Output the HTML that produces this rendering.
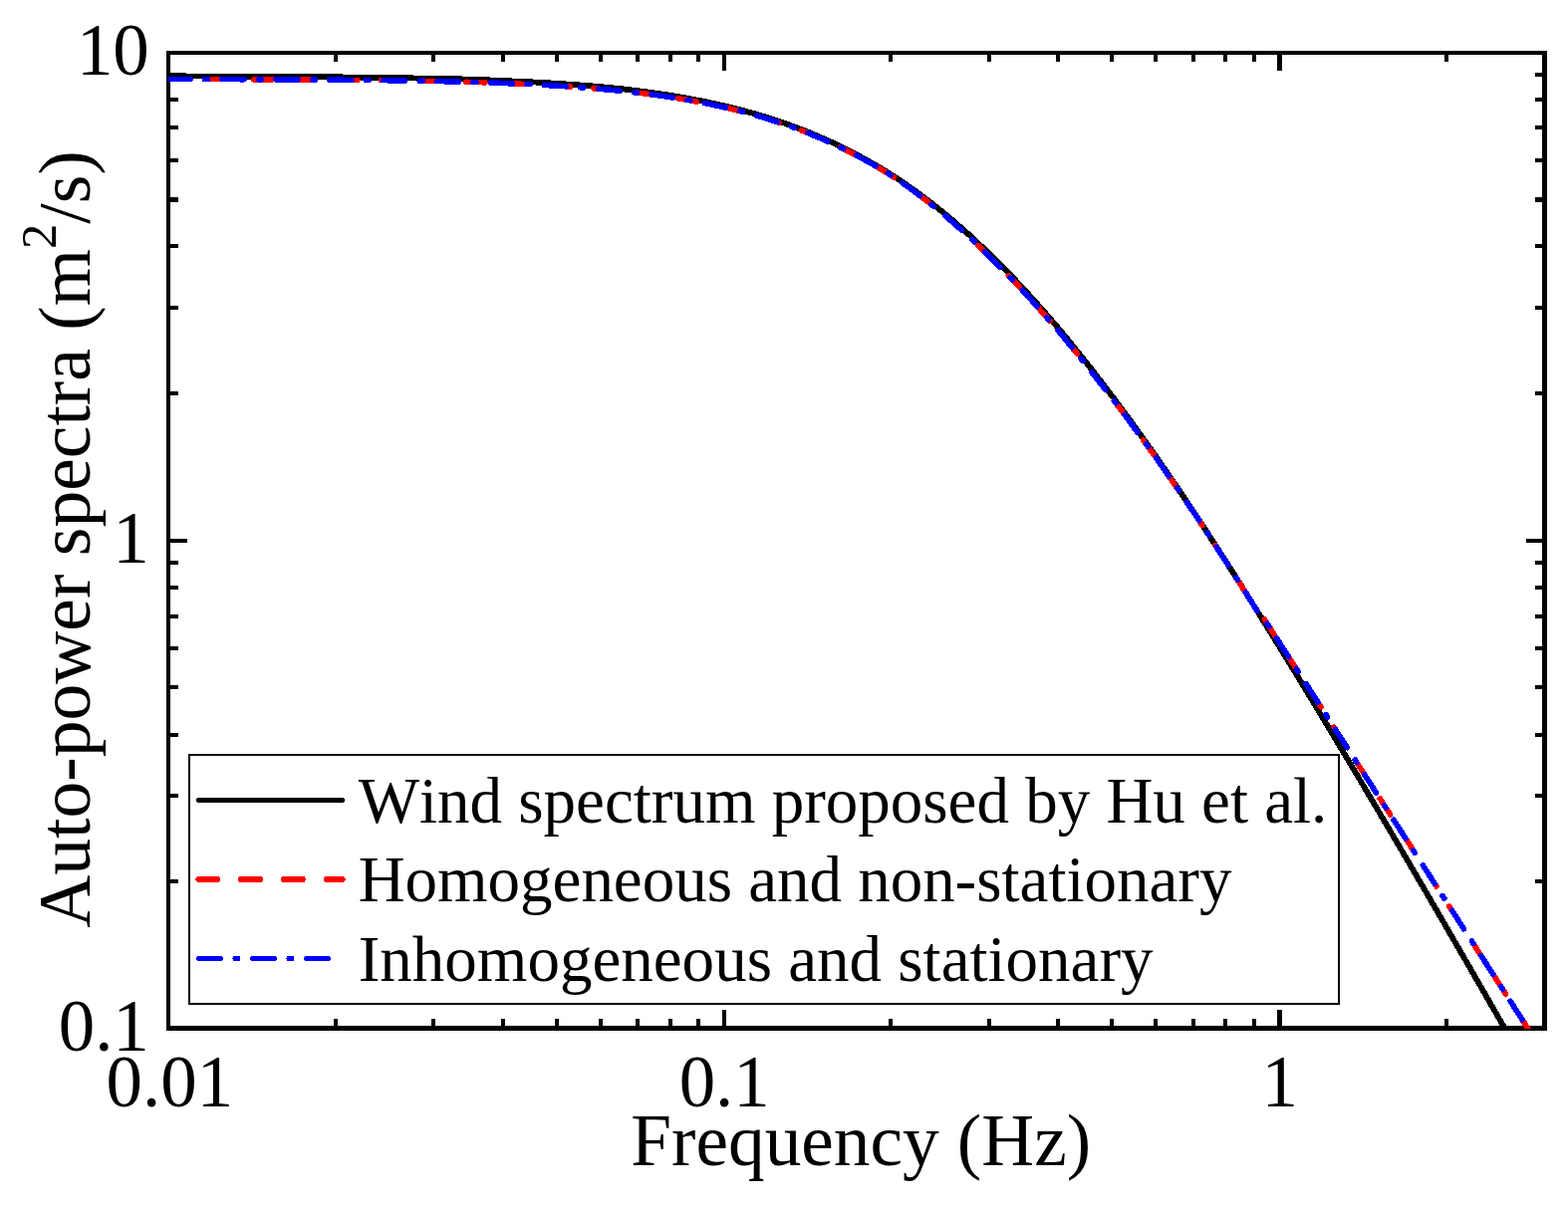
<!DOCTYPE html>
<html lang="en"><head><meta charset="utf-8"><title>Auto-power spectra</title>
<style>html,body{margin:0;padding:0;background:#fff}svg{display:block}text{font-family:"Liberation Serif","Times New Roman",serif;fill:#000;font-kerning:none;font-variant-ligatures:none}</style></head><body>
<svg width="1574" height="1214" viewBox="0 0 1574 1214">
<rect width="1574" height="1214" fill="#fff"/>
<defs><clipPath id="c"><rect x="169" y="53" width="1381.5" height="980"/></clipPath></defs>
<g fill="#000" shape-rendering="crispEdges">
<rect x="167" y="51" width="1386" height="4"/>
<rect x="167" y="1030" width="1386" height="5"/>
<rect x="167" y="51" width="4" height="984"/>
<rect x="1548" y="51" width="5" height="984"/>
<rect x="335" y="51" width="4" height="11"/>
<rect x="335" y="1023" width="4" height="12"/>
<rect x="433" y="51" width="4" height="11"/>
<rect x="433" y="1023" width="4" height="12"/>
<rect x="503" y="51" width="4" height="11"/>
<rect x="503" y="1023" width="4" height="12"/>
<rect x="557" y="51" width="4" height="11"/>
<rect x="557" y="1023" width="4" height="12"/>
<rect x="601" y="51" width="4" height="11"/>
<rect x="601" y="1023" width="4" height="12"/>
<rect x="638" y="51" width="4" height="11"/>
<rect x="638" y="1023" width="4" height="12"/>
<rect x="671" y="51" width="4" height="11"/>
<rect x="671" y="1023" width="4" height="12"/>
<rect x="699" y="51" width="4" height="11"/>
<rect x="699" y="1023" width="4" height="12"/>
<rect x="725" y="51" width="4" height="20"/>
<rect x="725" y="1014" width="4" height="21"/>
<rect x="892" y="51" width="4" height="11"/>
<rect x="892" y="1023" width="4" height="12"/>
<rect x="991" y="51" width="4" height="11"/>
<rect x="991" y="1023" width="4" height="12"/>
<rect x="1060" y="51" width="4" height="11"/>
<rect x="1060" y="1023" width="4" height="12"/>
<rect x="1114" y="51" width="4" height="11"/>
<rect x="1114" y="1023" width="4" height="12"/>
<rect x="1158" y="51" width="4" height="11"/>
<rect x="1158" y="1023" width="4" height="12"/>
<rect x="1196" y="51" width="4" height="11"/>
<rect x="1196" y="1023" width="4" height="12"/>
<rect x="1228" y="51" width="4" height="11"/>
<rect x="1228" y="1023" width="4" height="12"/>
<rect x="1257" y="51" width="4" height="11"/>
<rect x="1257" y="1023" width="4" height="12"/>
<rect x="1282" y="51" width="5" height="20"/>
<rect x="1282" y="1014" width="5" height="21"/>
<rect x="1450" y="51" width="4" height="11"/>
<rect x="1450" y="1023" width="4" height="12"/>
<rect x="167" y="883" width="12" height="4"/>
<rect x="1541" y="883" width="12" height="4"/>
<rect x="167" y="797" width="12" height="4"/>
<rect x="1541" y="797" width="12" height="4"/>
<rect x="167" y="736" width="12" height="4"/>
<rect x="1541" y="736" width="12" height="4"/>
<rect x="167" y="688" width="12" height="4"/>
<rect x="1541" y="688" width="12" height="4"/>
<rect x="167" y="649" width="12" height="4"/>
<rect x="1541" y="649" width="12" height="4"/>
<rect x="167" y="617" width="12" height="4"/>
<rect x="1541" y="617" width="12" height="4"/>
<rect x="167" y="588" width="12" height="4"/>
<rect x="1541" y="588" width="12" height="4"/>
<rect x="167" y="563" width="12" height="4"/>
<rect x="1541" y="563" width="12" height="4"/>
<rect x="167" y="541" width="21" height="4"/>
<rect x="1532" y="541" width="21" height="4"/>
<rect x="167" y="393" width="12" height="4"/>
<rect x="1541" y="393" width="12" height="4"/>
<rect x="167" y="307" width="12" height="4"/>
<rect x="1541" y="307" width="12" height="4"/>
<rect x="167" y="245" width="12" height="4"/>
<rect x="1541" y="245" width="12" height="4"/>
<rect x="167" y="198" width="12" height="5"/>
<rect x="1541" y="198" width="12" height="5"/>
<rect x="167" y="159" width="12" height="4"/>
<rect x="1541" y="159" width="12" height="4"/>
<rect x="167" y="126" width="12" height="4"/>
<rect x="1541" y="126" width="12" height="4"/>
<rect x="167" y="98" width="12" height="4"/>
<rect x="1541" y="98" width="12" height="4"/>
<rect x="167" y="73" width="12" height="4"/>
<rect x="1541" y="73" width="12" height="4"/>
</g>
<g clip-path="url(#c)" fill="none" stroke-width="5.6" stroke-linejoin="round" stroke-linecap="round" shape-rendering="crispEdges">
<path d="M169.00,76.33 L171.00,76.34 L173.00,76.34 L175.00,76.35 L177.00,76.36 L179.00,76.36 L181.00,76.37 L183.00,76.38 L185.00,76.39 L187.00,76.40 L189.00,76.40 L191.00,76.41 L193.00,76.42 L195.00,76.43 L197.00,76.44 L199.00,76.45 L201.00,76.45 L203.00,76.46 L205.00,76.46 L207.00,76.47 L209.00,76.48 L211.00,76.48 L213.00,76.49 L215.00,76.50 L217.00,76.51 L219.00,76.51 L221.00,76.52 L223.00,76.53 L225.00,76.54 L227.00,76.54 L229.00,76.55 L231.00,76.56 L233.00,76.57 L235.00,76.58 L237.00,76.59 L239.00,76.59 L241.00,76.60 L243.00,76.61 L245.00,76.62 L247.00,76.63 L249.00,76.64 L251.00,76.65 L253.00,76.66 L255.00,76.67 L257.00,76.68 L259.00,76.69 L261.00,76.71 L263.00,76.72 L265.00,76.73 L267.00,76.74 L269.00,76.75 L271.00,76.76 L273.00,76.78 L275.00,76.79 L277.00,76.80 L279.00,76.82 L281.00,76.83 L283.00,76.84 L285.00,76.86 L287.00,76.87 L289.00,76.89 L291.00,76.90 L293.00,76.92 L295.00,76.93 L297.00,76.95 L299.00,76.96 L301.00,76.98 L303.00,77.00 L305.00,77.01 L307.00,77.03 L309.00,77.05 L311.00,77.06 L313.00,77.08 L315.00,77.10 L317.00,77.12 L319.00,77.14 L321.00,77.16 L323.00,77.18 L325.00,77.20 L327.00,77.22 L329.00,77.24 L331.00,77.26 L333.00,77.28 L335.00,77.30 L337.00,77.33 L339.00,77.35 L341.00,77.37 L343.00,77.39 L345.00,77.42 L347.00,77.44 L349.00,77.46 L351.00,77.48 L353.00,77.50 L355.00,77.53 L357.00,77.55 L359.00,77.57 L361.00,77.60 L363.00,77.62 L365.00,77.65 L367.00,77.67 L369.00,77.70 L371.00,77.73 L373.00,77.75 L375.00,77.78 L377.00,77.81 L379.00,77.84 L381.00,77.87 L383.00,77.90 L385.00,77.93 L387.00,77.96 L389.00,77.99 L391.00,78.02 L393.00,78.05 L395.00,78.09 L397.00,78.12 L399.00,78.16 L401.00,78.19 L403.00,78.23 L405.00,78.26 L407.00,78.30 L409.00,78.33 L411.00,78.36 L413.00,78.38 L415.00,78.41 L417.00,78.44 L419.00,78.47 L421.00,78.50 L423.00,78.53 L425.00,78.56 L427.00,78.59 L429.00,78.62 L431.00,78.65 L433.00,78.69 L435.00,78.72 L437.00,78.76 L439.00,78.79 L441.00,78.83 L443.00,78.87 L445.00,78.91 L447.00,78.95 L449.00,78.99 L451.00,79.03 L453.00,79.09 L455.00,79.14 L457.00,79.20 L459.00,79.26 L461.00,79.32 L463.00,79.38 L465.00,79.44 L467.00,79.50 L469.00,79.56 L471.00,79.63 L473.00,79.69 L475.00,79.76 L477.00,79.82 L479.00,79.89 L481.00,79.97 L483.00,80.04 L485.00,80.12 L487.00,80.20 L489.00,80.28 L491.00,80.36 L493.00,80.45 L495.00,80.53 L497.00,80.62 L499.00,80.71 L501.00,80.79 L503.00,80.88 L505.00,80.98 L507.00,81.07 L509.00,81.16 L511.00,81.26 L513.00,81.36 L515.00,81.45 L517.00,81.55 L519.00,81.66 L521.00,81.75 L523.00,81.85 L525.00,81.94 L527.00,82.04 L529.00,82.13 L531.00,82.23 L533.00,82.33 L535.00,82.44 L537.00,82.54 L539.00,82.65 L541.00,82.76 L543.00,82.87 L545.00,82.98 L547.00,83.09 L549.00,83.21 L551.00,83.32 L553.00,83.44 L555.00,83.56 L557.00,83.69 L559.00,83.81 L561.00,83.94 L563.00,84.07 L565.00,84.20 L567.00,84.34 L569.00,84.47 L571.00,84.61 L573.00,84.75 L575.00,84.89 L577.00,85.04 L579.00,85.19 L581.00,85.34 L583.00,85.49 L585.00,85.64 L587.00,85.80 L589.00,85.96 L591.00,86.12 L593.00,86.29 L595.00,86.46 L597.00,86.63 L599.00,86.80 L601.00,86.97 L603.00,87.15 L605.00,87.33 L607.00,87.52 L609.00,87.71 L611.00,87.90 L613.00,88.09 L615.00,88.28 L617.00,88.48 L619.00,88.69 L621.00,88.90 L623.00,89.12 L625.00,89.34 L627.00,89.57 L629.00,89.80 L631.00,90.03 L633.00,90.27 L635.00,90.51 L637.00,90.76 L639.00,91.00 L641.00,91.26 L643.00,91.51 L645.00,91.77 L647.00,92.03 L649.00,92.30 L651.00,92.57 L653.00,92.84 L655.00,93.12 L657.00,93.40 L659.00,93.69 L661.00,93.98 L663.00,94.28 L665.00,94.57 L667.00,94.88 L669.00,95.18 L671.00,95.50 L673.00,95.81 L675.00,96.13 L677.00,96.46 L679.00,96.79 L681.00,97.12 L683.00,97.47 L685.00,97.81 L687.00,98.17 L689.00,98.52 L691.00,98.88 L693.00,99.25 L695.00,99.62 L697.00,100.00 L699.00,100.38 L701.00,100.77 L703.00,101.16 L705.00,101.56 L707.00,101.96 L709.00,102.37 L711.00,102.79 L713.00,103.21 L715.00,103.64 L717.00,104.07 L719.00,104.51 L721.00,104.95 L723.00,105.40 L725.00,105.86 L727.00,106.32 L729.00,106.79 L731.00,107.27 L733.00,107.75 L735.00,108.24 L737.00,108.73 L739.00,109.23 L741.00,109.74 L743.00,110.25 L745.00,110.78 L747.00,111.31 L749.00,111.84 L751.00,112.38 L753.00,112.93 L755.00,113.49 L757.00,114.06 L759.00,114.63 L761.00,115.21 L763.00,115.81 L765.00,116.41 L767.00,117.02 L769.00,117.64 L771.00,118.27 L773.00,118.90 L775.00,119.54 L777.00,120.20 L779.00,120.85 L781.00,121.52 L783.00,122.20 L785.00,122.88 L787.00,123.57 L789.00,124.28 L791.00,124.99 L793.00,125.70 L795.00,126.43 L797.00,127.17 L799.00,127.91 L801.00,128.67 L803.00,129.43 L805.00,130.21 L807.00,130.99 L809.00,131.78 L811.00,132.58 L813.00,133.39 L815.00,134.21 L817.00,135.04 L819.00,135.88 L821.00,136.73 L823.00,137.60 L825.00,138.47 L827.00,139.35 L829.00,140.24 L831.00,141.14 L833.00,142.05 L835.00,142.97 L837.00,143.90 L839.00,144.85 L841.00,145.80 L843.00,146.77 L845.00,147.74 L847.00,148.73 L849.00,149.73 L851.00,150.73 L853.00,151.74 L855.00,152.76 L857.00,153.79 L859.00,154.83 L861.00,155.89 L863.00,156.95 L865.00,158.03 L867.00,159.12 L869.00,160.22 L871.00,161.33 L873.00,162.46 L875.00,163.60 L877.00,164.75 L879.00,165.91 L881.00,167.08 L883.00,168.26 L885.00,169.46 L887.00,170.67 L889.00,171.90 L891.00,173.13 L893.00,174.38 L895.00,175.64 L897.00,176.91 L899.00,178.20 L901.00,179.51 L903.00,180.84 L905.00,182.19 L907.00,183.55 L909.00,184.92 L911.00,186.31 L913.00,187.71 L915.00,189.12 L917.00,190.54 L919.00,191.98 L921.00,193.43 L923.00,194.90 L925.00,196.38 L927.00,197.87 L929.00,199.38 L931.00,200.89 L933.00,202.43 L935.00,203.97 L937.00,205.53 L939.00,207.10 L941.00,208.69 L943.00,210.29 L945.00,211.90 L947.00,213.53 L949.00,215.17 L951.00,216.83 L953.00,218.49 L955.00,220.18 L957.00,221.87 L959.00,223.58 L961.00,225.30 L963.00,227.04 L965.00,228.79 L967.00,230.56 L969.00,232.34 L971.00,234.13 L973.00,235.94 L975.00,237.76 L977.00,239.60 L979.00,241.44 L981.00,243.31 L983.00,245.18 L985.00,247.07 L987.00,248.98 L989.00,250.89 L991.00,252.82 L993.00,254.77 L995.00,256.73 L997.00,258.70 L999.00,260.68 L1001.00,262.67 L1003.00,264.66 L1005.00,266.66 L1007.00,268.67 L1009.00,270.70 L1011.00,272.74 L1013.00,274.79 L1015.00,276.86 L1017.00,278.94 L1019.00,281.04 L1021.00,283.15 L1023.00,285.27 L1025.00,287.40 L1027.00,289.55 L1029.00,291.71 L1031.00,293.88 L1033.00,296.07 L1035.00,298.27 L1037.00,300.48 L1039.00,302.71 L1041.00,304.95 L1043.00,307.20 L1045.00,309.46 L1047.00,311.74 L1049.00,314.02 L1051.00,316.33 L1053.00,318.64 L1055.00,320.97 L1057.00,323.30 L1059.00,325.66 L1061.00,328.02 L1063.00,330.39 L1065.00,332.78 L1067.00,335.18 L1069.00,337.59 L1071.00,340.01 L1073.00,342.45 L1075.00,344.90 L1077.00,347.35 L1079.00,349.82 L1081.00,352.31 L1083.00,354.80 L1085.00,357.30 L1087.00,359.82 L1089.00,362.35 L1091.00,364.88 L1093.00,367.43 L1095.00,369.99 L1097.00,372.56 L1099.00,375.15 L1101.00,377.73 L1103.00,380.31 L1105.00,382.90 L1107.00,385.50 L1109.00,388.11 L1111.00,390.73 L1113.00,393.36 L1115.00,396.00 L1117.00,398.65 L1119.00,401.32 L1121.00,403.99 L1123.00,406.67 L1125.00,409.36 L1127.00,412.06 L1129.00,414.78 L1131.00,417.50 L1133.00,420.23 L1135.00,422.97 L1137.00,425.72 L1139.00,428.47 L1141.00,431.24 L1143.00,434.02 L1145.00,436.80 L1147.00,439.60 L1149.00,442.40 L1151.00,445.21 L1153.00,448.03 L1155.00,450.86 L1157.00,453.70 L1159.00,456.55 L1161.00,459.40 L1163.00,462.26 L1165.00,465.13 L1167.00,468.01 L1169.00,470.90 L1171.00,473.80 L1173.00,476.70 L1175.00,479.61 L1177.00,482.53 L1179.00,485.45 L1181.00,488.39 L1183.00,491.33 L1185.00,494.28 L1187.00,497.23 L1189.00,500.19 L1191.00,503.16 L1193.00,506.14 L1195.00,509.12 L1197.00,512.12 L1199.00,515.11 L1201.00,518.13 L1203.00,521.16 L1205.00,524.21 L1207.00,527.25 L1209.00,530.31 L1211.00,533.37 L1213.00,536.44 L1215.00,539.51 L1217.00,542.59 L1219.00,545.68 L1221.00,548.77 L1223.00,551.87 L1225.00,554.97 L1227.00,558.08 L1229.00,561.20 L1231.00,564.32 L1233.00,567.44 L1235.00,570.58 L1237.00,573.71 L1239.00,576.86 L1241.00,580.01 L1243.00,583.16 L1245.00,586.32 L1247.00,589.48 L1249.00,592.65 L1251.00,595.83 L1253.00,599.01 L1255.00,602.19 L1257.00,605.38 L1259.00,608.57 L1261.00,611.77 L1263.00,614.98 L1265.00,618.18 L1267.00,621.40 L1269.00,624.61 L1271.00,627.83 L1273.00,631.06 L1275.00,634.29 L1277.00,637.52 L1279.00,640.76 L1281.00,644.01 L1283.00,647.25 L1285.00,650.50 L1287.00,653.76 L1289.00,657.02 L1291.00,660.28 L1293.00,663.55 L1295.00,666.82 L1297.00,670.09 L1299.00,673.37 L1301.00,676.65 L1303.00,679.93 L1305.00,683.22 L1307.00,686.51 L1309.00,689.80 L1311.00,693.10 L1313.00,696.39 L1315.00,699.69 L1317.00,703.00 L1319.00,706.30 L1321.00,709.61 L1323.00,712.92 L1325.00,716.23 L1327.00,719.55 L1329.00,722.86 L1331.00,726.18 L1333.00,729.51 L1335.00,732.83 L1337.00,736.16 L1339.00,739.49 L1341.00,742.82 L1343.00,746.15 L1345.00,749.49 L1347.00,752.83 L1349.00,756.17 L1351.00,759.51 L1353.00,762.86 L1355.00,766.20 L1357.00,769.55 L1359.00,772.91 L1361.00,776.26 L1363.00,779.62 L1365.00,782.98 L1367.00,786.34 L1369.00,789.70 L1371.00,793.06 L1373.00,796.43 L1375.00,799.80 L1377.00,803.17 L1379.00,806.55 L1381.00,809.92 L1383.00,813.30 L1385.00,816.68 L1387.00,820.06 L1389.00,823.45 L1391.00,826.84 L1393.00,830.22 L1395.00,833.61 L1397.00,837.01 L1399.00,840.40 L1401.00,843.80 L1403.00,847.20 L1405.00,850.60 L1407.00,854.00 L1409.00,857.41 L1411.00,860.82 L1413.00,864.23 L1415.00,867.64 L1417.00,871.05 L1419.00,874.47 L1421.00,877.89 L1423.00,881.31 L1425.00,884.73 L1427.00,888.15 L1429.00,891.58 L1431.00,895.01 L1433.00,898.44 L1435.00,901.87 L1437.00,905.31 L1439.00,908.74 L1441.00,912.18 L1443.00,915.63 L1445.00,919.07 L1447.00,922.51 L1449.00,925.96 L1451.00,929.41 L1453.00,932.86 L1455.00,936.31 L1457.00,939.77 L1459.00,943.22 L1461.00,946.68 L1463.00,950.14 L1465.00,953.59 L1467.00,957.05 L1469.00,960.51 L1471.00,963.98 L1473.00,967.44 L1475.00,970.90 L1477.00,974.37 L1479.00,977.83 L1481.00,981.30 L1483.00,984.77 L1485.00,988.23 L1487.00,991.70 L1489.00,995.17 L1491.00,998.65 L1493.00,1002.12 L1495.00,1005.59 L1497.00,1009.07 L1499.00,1012.54 L1501.00,1016.02 L1503.00,1019.49 L1505.00,1022.97 L1507.00,1026.45 L1509.00,1029.93 L1511.00,1033.41 L1513.00,1036.89 L1515.00,1040.37 L1517.00,1043.85 L1519.00,1047.34 L1521.00,1050.82 L1523.00,1054.30 L1525.00,1057.79 L1527.00,1061.27 L1529.00,1064.76 L1531.00,1068.25 L1533.00,1071.74 L1535.00,1075.23 L1537.00,1078.71 L1539.00,1082.20 L1541.00,1085.70 L1543.00,1089.19 L1545.00,1092.68 L1547.00,1096.17 L1549.00,1099.66 L1551.00,1103.16 L1553.00,1106.65" stroke="#000" stroke-width="5.8" stroke-linecap="butt"/>
<path d="M169.00,79.48 L171.00,79.48 L173.00,79.49 L175.00,79.50 L177.00,79.50 L179.00,79.51 L181.00,79.51 L183.00,79.52 L185.00,79.53 L187.00,79.53 L189.00,79.54 L191.00,79.55 L193.00,79.55 L195.00,79.56 L197.00,79.57 L199.00,79.58 L201.00,79.58 L203.00,79.59 L205.00,79.59 L207.00,79.60 L209.00,79.60 L211.00,79.61 L213.00,79.61 L215.00,79.62 L217.00,79.63 L219.00,79.63 L221.00,79.64 L223.00,79.64 L225.00,79.65 L227.00,79.66 L229.00,79.66 L231.00,79.67 L233.00,79.68 L235.00,79.69 L237.00,79.69 L239.00,79.70 L241.00,79.71 L243.00,79.72 L245.00,79.73 L247.00,79.73 L249.00,79.74 L251.00,79.75 L253.00,79.75 L255.00,79.75 L257.00,79.76 L259.00,79.76 L261.00,79.76 L263.00,79.76 L265.00,79.77 L267.00,79.77 L269.00,79.78 L271.00,79.78 L273.00,79.79 L275.00,79.79 L277.00,79.79 L279.00,79.80 L281.00,79.81 L283.00,79.81 L285.00,79.82 L287.00,79.82 L289.00,79.83 L291.00,79.84 L293.00,79.84 L295.00,79.85 L297.00,79.86 L299.00,79.87 L301.00,79.88 L303.00,79.90 L305.00,79.91 L307.00,79.93 L309.00,79.95 L311.00,79.96 L313.00,79.98 L315.00,80.00 L317.00,80.02 L319.00,80.04 L321.00,80.06 L323.00,80.08 L325.00,80.10 L327.00,80.12 L329.00,80.14 L331.00,80.16 L333.00,80.18 L335.00,80.20 L337.00,80.23 L339.00,80.25 L341.00,80.27 L343.00,80.29 L345.00,80.30 L347.00,80.32 L349.00,80.33 L351.00,80.35 L353.00,80.36 L355.00,80.38 L357.00,80.39 L359.00,80.41 L361.00,80.42 L363.00,80.44 L365.00,80.46 L367.00,80.48 L369.00,80.50 L371.00,80.52 L373.00,80.54 L375.00,80.56 L377.00,80.58 L379.00,80.60 L381.00,80.62 L383.00,80.64 L385.00,80.66 L387.00,80.69 L389.00,80.71 L391.00,80.74 L393.00,80.76 L395.00,80.79 L397.00,80.81 L399.00,80.84 L401.00,80.87 L403.00,80.90 L405.00,80.92 L407.00,80.95 L409.00,80.99 L411.00,81.02 L413.00,81.06 L415.00,81.09 L417.00,81.13 L419.00,81.17 L421.00,81.21 L423.00,81.25 L425.00,81.29 L427.00,81.33 L429.00,81.37 L431.00,81.41 L433.00,81.45 L435.00,81.50 L437.00,81.54 L439.00,81.59 L441.00,81.63 L443.00,81.66 L445.00,81.70 L447.00,81.73 L449.00,81.77 L451.00,81.82 L453.00,81.87 L455.00,81.92 L457.00,81.97 L459.00,82.03 L461.00,82.08 L463.00,82.14 L465.00,82.20 L467.00,82.25 L469.00,82.31 L471.00,82.37 L473.00,82.42 L475.00,82.47 L477.00,82.52 L479.00,82.57 L481.00,82.62 L483.00,82.68 L485.00,82.75 L487.00,82.81 L489.00,82.87 L491.00,82.94 L493.00,83.01 L495.00,83.07 L497.00,83.14 L499.00,83.21 L501.00,83.29 L503.00,83.38 L505.00,83.47 L507.00,83.56 L509.00,83.65 L511.00,83.74 L513.00,83.83 L515.00,83.92 L517.00,84.02 L519.00,84.12 L521.00,84.21 L523.00,84.30 L525.00,84.39 L527.00,84.48 L529.00,84.58 L531.00,84.67 L533.00,84.77 L535.00,84.87 L537.00,84.97 L539.00,85.07 L541.00,85.17 L543.00,85.28 L545.00,85.39 L547.00,85.50 L549.00,85.61 L551.00,85.72 L553.00,85.84 L555.00,85.95 L557.00,86.07 L559.00,86.20 L561.00,86.32 L563.00,86.44 L565.00,86.57 L567.00,86.70 L569.00,86.83 L571.00,86.97 L573.00,87.10 L575.00,87.24 L577.00,87.38 L579.00,87.53 L581.00,87.67 L583.00,87.82 L585.00,87.97 L587.00,88.13 L589.00,88.28 L591.00,88.44 L593.00,88.60 L595.00,88.77 L597.00,88.93 L599.00,89.10 L601.00,89.27 L603.00,89.43 L605.00,89.60 L607.00,89.77 L609.00,89.94 L611.00,90.12 L613.00,90.30 L615.00,90.48 L617.00,90.66 L619.00,90.85 L621.00,91.05 L623.00,91.26 L625.00,91.47 L627.00,91.68 L629.00,91.90 L631.00,92.12 L633.00,92.34 L635.00,92.57 L637.00,92.80 L639.00,93.03 L641.00,93.27 L643.00,93.51 L645.00,93.75 L647.00,94.00 L649.00,94.26 L651.00,94.51 L653.00,94.77 L655.00,95.04 L657.00,95.30 L659.00,95.58 L661.00,95.85 L663.00,96.13 L665.00,96.42 L667.00,96.71 L669.00,97.00 L671.00,97.30 L673.00,97.60 L675.00,97.91 L677.00,98.22 L679.00,98.54 L681.00,98.86 L683.00,99.19 L685.00,99.52 L687.00,99.86 L689.00,100.20 L691.00,100.55 L693.00,100.90 L695.00,101.26 L697.00,101.62 L699.00,101.99 L701.00,102.36 L703.00,102.75 L705.00,103.14 L707.00,103.53 L709.00,103.93 L711.00,104.33 L713.00,104.74 L715.00,105.16 L717.00,105.58 L719.00,106.01 L721.00,106.45 L723.00,106.89 L725.00,107.33 L727.00,107.79 L729.00,108.24 L731.00,108.71 L733.00,109.18 L735.00,109.66 L737.00,110.14 L739.00,110.64 L741.00,111.13 L743.00,111.64 L745.00,112.15 L747.00,112.67 L749.00,113.20 L751.00,113.73 L753.00,114.27 L755.00,114.82 L757.00,115.37 L759.00,115.93 L761.00,116.51 L763.00,117.09 L765.00,117.69 L767.00,118.29 L769.00,118.90 L771.00,119.51 L773.00,120.14 L775.00,120.77 L777.00,121.41 L779.00,122.06 L781.00,122.72 L783.00,123.38 L785.00,124.06 L787.00,124.74 L789.00,125.43 L791.00,126.13 L793.00,126.84 L795.00,127.56 L797.00,128.28 L799.00,129.02 L801.00,129.77 L803.00,130.53 L805.00,131.30 L807.00,132.07 L809.00,132.86 L811.00,133.66 L813.00,134.47 L815.00,135.28 L817.00,136.11 L819.00,136.95 L821.00,137.79 L823.00,138.65 L825.00,139.52 L827.00,140.39 L829.00,141.28 L831.00,142.18 L833.00,143.08 L835.00,144.00 L837.00,144.93 L839.00,145.87 L841.00,146.82 L843.00,147.78 L845.00,148.75 L847.00,149.73 L849.00,150.73 L851.00,151.73 L853.00,152.73 L855.00,153.75 L857.00,154.78 L859.00,155.82 L861.00,156.87 L863.00,157.93 L865.00,159.00 L867.00,160.09 L869.00,161.18 L871.00,162.29 L873.00,163.41 L875.00,164.55 L877.00,165.69 L879.00,166.85 L881.00,168.02 L883.00,169.20 L885.00,170.39 L887.00,171.60 L889.00,172.82 L891.00,174.05 L893.00,175.29 L895.00,176.55 L897.00,177.82 L899.00,179.10 L901.00,180.42 L903.00,181.79 L905.00,183.17 L907.00,184.56 L909.00,185.96 L911.00,187.38 L913.00,188.81 L915.00,190.26 L917.00,191.72 L919.00,193.19 L921.00,194.67 L923.00,196.17 L925.00,197.68 L927.00,199.20 L929.00,200.74 L931.00,202.29 L933.00,203.85 L935.00,205.43 L937.00,207.02 L939.00,208.63 L941.00,210.25 L943.00,211.88 L945.00,213.52 L947.00,215.18 L949.00,216.86 L951.00,218.54 L953.00,220.25 L955.00,221.97 L957.00,223.70 L959.00,225.44 L961.00,227.20 L963.00,228.98 L965.00,230.76 L967.00,232.57 L969.00,234.38 L971.00,236.21 L973.00,238.05 L975.00,239.91 L977.00,241.78 L979.00,243.67 L981.00,245.56 L983.00,247.48 L985.00,249.40 L987.00,251.34 L989.00,253.29 L991.00,255.26 L993.00,257.24 L995.00,259.24 L997.00,261.24 L999.00,263.26 L1001.00,265.27 L1003.00,267.26 L1005.00,269.26 L1007.00,271.28 L1009.00,273.31 L1011.00,275.35 L1013.00,277.41 L1015.00,279.48 L1017.00,281.56 L1019.00,283.66 L1021.00,285.77 L1023.00,287.89 L1025.00,290.03 L1027.00,292.18 L1029.00,294.34 L1031.00,296.51 L1033.00,298.70 L1035.00,300.90 L1037.00,303.12 L1039.00,305.35 L1041.00,307.59 L1043.00,309.84 L1045.00,312.10 L1047.00,314.38 L1049.00,316.67 L1051.00,318.98 L1053.00,321.29 L1055.00,323.62 L1057.00,325.96 L1059.00,328.31 L1061.00,330.68 L1063.00,333.06 L1065.00,335.45 L1067.00,337.85 L1069.00,340.26 L1071.00,342.69 L1073.00,345.12 L1075.00,347.57 L1077.00,350.03 L1079.00,352.50 L1081.00,354.99 L1083.00,357.48 L1085.00,359.99 L1087.00,362.51 L1089.00,365.03 L1091.00,367.57 L1093.00,370.13 L1095.00,372.69 L1097.00,375.26 L1099.00,377.84 L1101.00,380.40 L1103.00,382.93 L1105.00,385.48 L1107.00,388.03 L1109.00,390.59 L1111.00,393.16 L1113.00,395.75 L1115.00,398.34 L1117.00,400.95 L1119.00,403.56 L1121.00,406.18 L1123.00,408.82 L1125.00,411.46 L1127.00,414.12 L1129.00,416.78 L1131.00,419.45 L1133.00,422.13 L1135.00,424.83 L1137.00,427.53 L1139.00,430.24 L1141.00,432.96 L1143.00,435.69 L1145.00,438.42 L1147.00,441.17 L1149.00,443.92 L1151.00,446.69 L1153.00,449.47 L1155.00,452.26 L1157.00,455.06 L1159.00,457.87 L1161.00,460.68 L1163.00,463.50 L1165.00,466.33 L1167.00,469.17 L1169.00,472.02 L1171.00,474.88 L1173.00,477.74 L1175.00,480.61 L1177.00,483.49 L1179.00,486.37 L1181.00,489.27 L1183.00,492.17 L1185.00,495.08 L1187.00,497.99 L1189.00,500.91 L1191.00,503.84 L1193.00,506.78 L1195.00,509.72 L1197.00,512.68 L1199.00,515.63 L1201.00,518.62 L1203.00,521.64 L1205.00,524.67 L1207.00,527.70 L1209.00,530.74 L1211.00,533.79 L1213.00,536.84 L1215.00,539.90 L1217.00,542.96 L1219.00,546.03 L1221.00,549.11 L1223.00,552.19 L1225.00,555.28 L1227.00,558.38 L1229.00,561.48 L1231.00,564.58 L1233.00,567.69 L1235.00,570.81 L1237.00,573.93 L1239.00,577.06 L1241.00,580.20 L1243.00,583.33 L1245.00,586.48 L1247.00,589.63 L1249.00,592.78 L1251.00,595.94 L1253.00,599.10 L1255.00,602.27 L1257.00,605.45 L1259.00,608.63 L1261.00,611.81 L1263.00,615.00 L1265.00,618.19" stroke="#f00" stroke-dasharray="19 23.7"/>
<path d="M1267.13,618.50 L1541.73,1045.00" stroke="#f00" stroke-dasharray="19 23.82" stroke-dashoffset="38.7"/>
<path d="M169.00,79.48 L171.00,79.48 L173.00,79.49 L175.00,79.50 L177.00,79.50 L179.00,79.51 L181.00,79.51 L183.00,79.52 L185.00,79.53 L187.00,79.53 L189.00,79.54 L191.00,79.55 L193.00,79.55 L195.00,79.56 L197.00,79.57 L199.00,79.58 L201.00,79.58 L203.00,79.59 L205.00,79.59 L207.00,79.60 L209.00,79.60 L211.00,79.61 L213.00,79.61 L215.00,79.62 L217.00,79.63 L219.00,79.63 L221.00,79.64 L223.00,79.64 L225.00,79.65 L227.00,79.66 L229.00,79.66 L231.00,79.67 L233.00,79.68 L235.00,79.69 L237.00,79.69 L239.00,79.70 L241.00,79.71 L243.00,79.72 L245.00,79.73 L247.00,79.73 L249.00,79.74 L251.00,79.75 L253.00,79.75 L255.00,79.75 L257.00,79.76 L259.00,79.76 L261.00,79.76 L263.00,79.76 L265.00,79.77 L267.00,79.77 L269.00,79.78 L271.00,79.78 L273.00,79.79 L275.00,79.79 L277.00,79.79 L279.00,79.80 L281.00,79.81 L283.00,79.81 L285.00,79.82 L287.00,79.82 L289.00,79.83 L291.00,79.84 L293.00,79.84 L295.00,79.85 L297.00,79.86 L299.00,79.87 L301.00,79.88 L303.00,79.90 L305.00,79.91 L307.00,79.93 L309.00,79.95 L311.00,79.96 L313.00,79.98 L315.00,80.00 L317.00,80.02 L319.00,80.04 L321.00,80.06 L323.00,80.08 L325.00,80.10 L327.00,80.12 L329.00,80.14 L331.00,80.16 L333.00,80.18 L335.00,80.20 L337.00,80.23 L339.00,80.25 L341.00,80.27 L343.00,80.29 L345.00,80.30 L347.00,80.32 L349.00,80.33 L351.00,80.35 L353.00,80.36 L355.00,80.38 L357.00,80.39 L359.00,80.41 L361.00,80.42 L363.00,80.44 L365.00,80.46 L367.00,80.48 L369.00,80.50 L371.00,80.52 L373.00,80.54 L375.00,80.56 L377.00,80.58 L379.00,80.60 L381.00,80.62 L383.00,80.64 L385.00,80.66 L387.00,80.69 L389.00,80.71 L391.00,80.74 L393.00,80.76 L395.00,80.79 L397.00,80.81 L399.00,80.84 L401.00,80.87 L403.00,80.90 L405.00,80.92 L407.00,80.95 L409.00,80.99 L411.00,81.02 L413.00,81.06 L415.00,81.09 L417.00,81.13 L419.00,81.17 L421.00,81.21 L423.00,81.25 L425.00,81.29 L427.00,81.33 L429.00,81.37 L431.00,81.41 L433.00,81.45 L435.00,81.50 L437.00,81.54 L439.00,81.59 L441.00,81.63 L443.00,81.66 L445.00,81.70 L447.00,81.73 L449.00,81.77 L451.00,81.82 L453.00,81.87 L455.00,81.92 L457.00,81.97 L459.00,82.03 L461.00,82.08 L463.00,82.14 L465.00,82.20 L467.00,82.25 L469.00,82.31 L471.00,82.37 L473.00,82.42 L475.00,82.47 L477.00,82.52 L479.00,82.57 L481.00,82.62 L483.00,82.68 L485.00,82.75 L487.00,82.81 L489.00,82.87 L491.00,82.94 L493.00,83.01 L495.00,83.07 L497.00,83.14 L499.00,83.21 L501.00,83.29 L503.00,83.38 L505.00,83.47 L507.00,83.56 L509.00,83.65 L511.00,83.74 L513.00,83.83 L515.00,83.92 L517.00,84.02 L519.00,84.12 L521.00,84.21 L523.00,84.30 L525.00,84.39 L527.00,84.48 L529.00,84.58 L531.00,84.67 L533.00,84.77 L535.00,84.87 L537.00,84.97 L539.00,85.07 L541.00,85.17 L543.00,85.28 L545.00,85.39 L547.00,85.50 L549.00,85.61 L551.00,85.72 L553.00,85.84 L555.00,85.95 L557.00,86.07 L559.00,86.20 L561.00,86.32 L563.00,86.44 L565.00,86.57 L567.00,86.70 L569.00,86.83 L571.00,86.97 L573.00,87.10 L575.00,87.24 L577.00,87.38 L579.00,87.53 L581.00,87.67 L583.00,87.82 L585.00,87.97 L587.00,88.13 L589.00,88.28 L591.00,88.44 L593.00,88.60 L595.00,88.77 L597.00,88.93 L599.00,89.10 L601.00,89.27 L603.00,89.43 L605.00,89.60 L607.00,89.77 L609.00,89.94 L611.00,90.12 L613.00,90.30 L615.00,90.48 L617.00,90.66 L619.00,90.85 L621.00,91.05 L623.00,91.26 L625.00,91.47 L627.00,91.68 L629.00,91.90 L631.00,92.12 L633.00,92.34 L635.00,92.57 L637.00,92.80 L639.00,93.03 L641.00,93.27 L643.00,93.51 L645.00,93.75 L647.00,94.00 L649.00,94.26 L651.00,94.51 L653.00,94.77 L655.00,95.04 L657.00,95.30 L659.00,95.58 L661.00,95.85 L663.00,96.13 L665.00,96.42 L667.00,96.71 L669.00,97.00 L671.00,97.30 L673.00,97.60 L675.00,97.91 L677.00,98.22 L679.00,98.54 L681.00,98.86 L683.00,99.19 L685.00,99.52 L687.00,99.86 L689.00,100.20 L691.00,100.55 L693.00,100.90 L695.00,101.26 L697.00,101.62 L699.00,101.99 L701.00,102.36 L703.00,102.75 L705.00,103.14 L707.00,103.53 L709.00,103.93 L711.00,104.33 L713.00,104.74 L715.00,105.16 L717.00,105.58 L719.00,106.01 L721.00,106.45 L723.00,106.89 L725.00,107.33 L727.00,107.79 L729.00,108.24 L731.00,108.71 L733.00,109.18 L735.00,109.66 L737.00,110.14 L739.00,110.64 L741.00,111.13 L743.00,111.64 L745.00,112.15 L747.00,112.67 L749.00,113.20 L751.00,113.73 L753.00,114.27 L755.00,114.82 L757.00,115.37 L759.00,115.93 L761.00,116.51 L763.00,117.09 L765.00,117.69 L767.00,118.29 L769.00,118.90 L771.00,119.51 L773.00,120.14 L775.00,120.77 L777.00,121.41 L779.00,122.06 L781.00,122.72 L783.00,123.38 L785.00,124.06 L787.00,124.74 L789.00,125.43 L791.00,126.13 L793.00,126.84 L795.00,127.56 L797.00,128.28 L799.00,129.02 L801.00,129.77 L803.00,130.53 L805.00,131.30 L807.00,132.07 L809.00,132.86 L811.00,133.66 L813.00,134.47 L815.00,135.28 L817.00,136.11 L819.00,136.95 L821.00,137.79 L823.00,138.65 L825.00,139.52 L827.00,140.39 L829.00,141.28 L831.00,142.18 L833.00,143.08 L835.00,144.00 L837.00,144.93 L839.00,145.87 L841.00,146.82 L843.00,147.78 L845.00,148.75 L847.00,149.73 L849.00,150.73 L851.00,151.73 L853.00,152.73 L855.00,153.75 L857.00,154.78 L859.00,155.82 L861.00,156.87 L863.00,157.93 L865.00,159.00 L867.00,160.09 L869.00,161.18 L871.00,162.29 L873.00,163.41 L875.00,164.55 L877.00,165.69 L879.00,166.85 L881.00,168.02 L883.00,169.20 L885.00,170.39 L887.00,171.60 L889.00,172.82 L891.00,174.05 L893.00,175.29 L895.00,176.55 L897.00,177.82 L899.00,179.10 L901.00,180.42 L903.00,181.79 L905.00,183.17 L907.00,184.56 L909.00,185.96 L911.00,187.38 L913.00,188.81 L915.00,190.26 L917.00,191.72 L919.00,193.19 L921.00,194.67 L923.00,196.17 L925.00,197.68 L927.00,199.20 L929.00,200.74 L931.00,202.29 L933.00,203.85 L935.00,205.43 L937.00,207.02 L939.00,208.63 L941.00,210.25 L943.00,211.88 L945.00,213.52 L947.00,215.18 L949.00,216.86 L951.00,218.54 L953.00,220.25 L955.00,221.97 L957.00,223.70 L959.00,225.44 L961.00,227.20 L963.00,228.98 L965.00,230.76 L967.00,232.57 L969.00,234.38 L971.00,236.21 L973.00,238.05 L975.00,239.91 L977.00,241.78 L979.00,243.67 L981.00,245.56 L983.00,247.48 L985.00,249.40 L987.00,251.34 L989.00,253.29 L991.00,255.26 L993.00,257.24 L995.00,259.24 L997.00,261.24 L999.00,263.26 L1001.00,265.27 L1003.00,267.26 L1005.00,269.26 L1007.00,271.28 L1009.00,273.31 L1011.00,275.35 L1013.00,277.41 L1015.00,279.48 L1017.00,281.56 L1019.00,283.66 L1021.00,285.77 L1023.00,287.89 L1025.00,290.03 L1027.00,292.18 L1029.00,294.34 L1031.00,296.51 L1033.00,298.70 L1035.00,300.90 L1037.00,303.12 L1039.00,305.35 L1041.00,307.59 L1043.00,309.84 L1045.00,312.10 L1047.00,314.38 L1049.00,316.67 L1051.00,318.98 L1053.00,321.29 L1055.00,323.62 L1057.00,325.96 L1059.00,328.31 L1061.00,330.68 L1063.00,333.06 L1065.00,335.45 L1067.00,337.85 L1069.00,340.26 L1071.00,342.69 L1073.00,345.12 L1075.00,347.57 L1077.00,350.03 L1079.00,352.50 L1081.00,354.99 L1083.00,357.48 L1085.00,359.99 L1087.00,362.51 L1089.00,365.03 L1091.00,367.57 L1093.00,370.13 L1095.00,372.69 L1097.00,375.26 L1099.00,377.84 L1101.00,380.40 L1103.00,382.93 L1105.00,385.48 L1107.00,388.03 L1109.00,390.59 L1111.00,393.16 L1113.00,395.75 L1115.00,398.34 L1117.00,400.95 L1119.00,403.56 L1121.00,406.18 L1123.00,408.82 L1125.00,411.46 L1127.00,414.12 L1129.00,416.78 L1131.00,419.45 L1133.00,422.13 L1135.00,424.83 L1137.00,427.53 L1139.00,430.24 L1141.00,432.96 L1143.00,435.69 L1145.00,438.42 L1147.00,441.17 L1149.00,443.92 L1151.00,446.69 L1153.00,449.47 L1155.00,452.26 L1157.00,455.06 L1159.00,457.87 L1161.00,460.68 L1163.00,463.50 L1165.00,466.33 L1167.00,469.17 L1169.00,472.02 L1171.00,474.88 L1173.00,477.74 L1175.00,480.61 L1177.00,483.49 L1179.00,486.37 L1181.00,489.27 L1183.00,492.17 L1185.00,495.08 L1187.00,497.99 L1189.00,500.91 L1191.00,503.84 L1193.00,506.78 L1195.00,509.72 L1197.00,512.68 L1199.00,515.63 L1201.00,518.62 L1203.00,521.64 L1205.00,524.67 L1207.00,527.70 L1209.00,530.74 L1211.00,533.79 L1213.00,536.84 L1215.00,539.90 L1217.00,542.96 L1219.00,546.03 L1221.00,549.11 L1223.00,552.19 L1225.00,555.28 L1227.00,558.38 L1229.00,561.48 L1231.00,564.58 L1233.00,567.69 L1235.00,570.81 L1237.00,573.93 L1239.00,577.06 L1241.00,580.20 L1243.00,583.33 L1245.00,586.48 L1247.00,589.63 L1249.00,592.78 L1251.00,595.94 L1253.00,599.10 L1255.00,602.27 L1257.00,605.45 L1259.00,608.63 L1261.00,611.81 L1263.00,615.00 L1265.00,618.19" stroke="#00f" stroke-dasharray="22 14.47 3 14.47"/>
<path d="M1267.13,618.50 L1541.73,1045.00" stroke="#00f" stroke-dasharray="22 14.57 3 14.58" stroke-dashoffset="27.2"/>
</g>
<rect x="190" y="758" width="1154" height="250" fill="#fff" stroke="#000" stroke-width="2" shape-rendering="crispEdges"/>
<g fill="none" stroke-width="5" stroke-linecap="round" shape-rendering="crispEdges">
<path d="M199.4,803.4H343.6" stroke="#000"/>
<path d="M199.4,883H343.6" stroke="#f00" stroke-width="6" stroke-dasharray="19 23.7"/>
<path d="M199.4,962.5H329.6" stroke="#00f" stroke-dasharray="22 14.5 3 14.5"/>
</g>
<g font-size="65.5px">
<text transform="translate(359.7,826.2) scale(0.9922,1)">Wind spectrum proposed by Hu et al.</text>
<text transform="translate(359.7,905) scale(0.9919,1)">Homogeneous and non-stationary</text>
<text transform="translate(359.7,984.7) scale(0.9925,1)">Inhomogeneous and stationary</text>
</g>
<g font-size="74px">
<g text-anchor="end">
<text transform="translate(149.8,75.4) scale(0.985,1)">10</text>
<text transform="translate(149.8,565.1) scale(0.985,1)">1</text>
<text transform="translate(149.8,1055.2) scale(0.985,1)">0.1</text>
</g><g text-anchor="middle">
<text transform="translate(170.3,1111) scale(0.985,1)">0.01</text>
<text transform="translate(727.2,1111) scale(0.985,1)">0.1</text>
<text transform="translate(1284.8,1111) scale(0.985,1)">1</text>
<text transform="translate(864.2,1169.8) scale(0.99,1)">Frequency (Hz)</text>
<text transform="translate(90.2,541.5) rotate(-90) scale(0.9937,1)">Auto-power spectra (m<tspan font-size="51px" dy="-34">2</tspan><tspan dy="34">/s)</tspan></text>
</g></g>
</svg></body></html>
